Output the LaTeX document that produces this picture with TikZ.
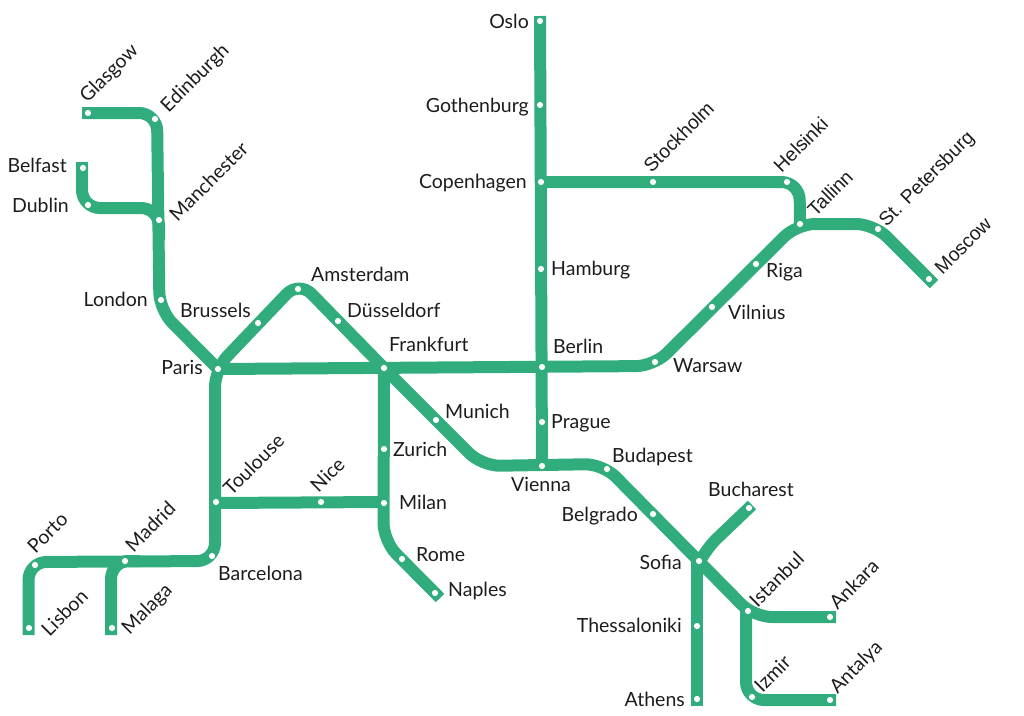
\documentclass[tikz,border=0pt]{standalone}
\usepackage{fontspec}
\setmainfont{Lato}
\newfontfamily\arialfont{Liberation Sans}
\usetikzlibrary{backgrounds}
\definecolor{metro}{RGB}{49,173,125}
\definecolor{ink}{RGB}{28,28,28}

\begin{document}
\begin{tikzpicture}[x=1pt,y=-1pt,
  stop/.style={circle,fill=white,inner sep=0pt,minimum size=6.2pt},
  track/.style={draw=metro,line width=12pt,rounded corners=18pt},
  city/.style={text=ink,font=\fontsize{19.5}{21}\selectfont,inner sep=0pt,text height=15.5pt,text depth=0pt},
  tilt/.style={city,rotate=45,anchor=west},
  tiltb/.style={tilt,font=\fontsize{19.3}{21}\selectfont\arialfont},
  west/.style={city,anchor=west},
  east/.style={city,anchor=east}]

  \useasboundingbox (0,0) rectangle (1024,715);

  % stops and their names
  \foreach \id/\x/\y/\kind/\lx/\ly/\txt in {
    oslo/540/21/east/529/21/Oslo,
    gothenburg/540/105/east/529/105/Gothenburg,
    copenhagen/541/182/east/527/181/Copenhagen,
    hamburg/541/269/west/551/268/Hamburg,
    berlin/542/367/west/553/346/Berlin,
    prague/542/422/west/551/421/Prague,
    vienna/542/466/west/511/484/Vienna,
    stockholm/653/182/tiltb/646/168/Stockholm,
    helsinki/787/182/tiltb/776/168/Helsinki,
    tallinn/800/224/tiltb/810/212/Tallinn,
    petersburg/878/229/tiltb/881/222/St. Petersburg,
    moscow/929/279/tiltb/937/270/Moscow,
    riga/756/264/west/766/270/Riga,
    vilnius/712/307/west/728/312/Vilnius,
    warsaw/655/362/west/673/365/Warsaw,
    glasgow/88/113/tilt/82/98/Glasgow,
    edinburgh/155/119/tilt/163/108/Edinburgh,
    manchester/159/220/tilt/172/217/Manchester,
    belfast/83/168/east/67/165/Belfast,
    dublin/88/205/east/69/205/Dublin,
    london/161/300/east/148/299/London,
    paris/218/369/east/203/367/Paris,
    brussels/258/323/west/180/310/Brussels,
    amsterdam/298/289/west/311/274/Amsterdam,
    dusseldorf/338/321/west/347/310/Düsseldorf,
    frankfurt/384/368/west/389/344/Frankfurt,
    munich/436/420/west/445/411/Munich,
    zurich/384/449/west/393/449/Zurich,
    milan/384/503/west/399/502/Milan,
    rome/402/559/west/416/554/Rome,
    naples/435/593/west/448/589/Naples,
    nice/321/502/tilt/313/488/Nice,
    toulouse/216/502/tilt/226/491/Toulouse,
    barcelona/212/556/west/218/573/Barcelona,
    madrid/125/561/tilt/128/548/Madrid,
    porto/35/565/tilt/30/549/Porto,
    lisbon/29/628/tilt/44/632/Lisbon,
    malaga/112/628/tilt/124/630/Malaga,
    budapest/607/469/west/612/455/Budapest,
    belgrado/653/514/east/638/514/Belgrado,
    sofia/699/561/east/682/562/Sofia,
    bucharest/749/508/west/708/489/Bucharest,
    istanbul/748/611/tilt/752/603/Istanbul,
    ankara/830/617/tilt/832/605/Ankara,
    thessaloniki/697/626/east/682/625/Thessaloniki,
    athens/697/699/east/685/699/Athens,
    izmir/752/697/tilt/757/688/Izmir,
    antalya/830/700/tilt/832/689/Antalya} {
    \node[stop] (\id) at (\x,\y) {};
    \node[\kind] (\id-name) at (\lx,\ly) {\txt};
  }

  % bends and line ends
  \foreach \id/\x/\y in {
    osloend/540/16, glasgowend/82/113, edinburghbend/157/113, londonbend/159.5/310,
    belfastend/82/162, dublinbend/82/208, manchesterbend/159/208, manchesterjoin/159/240,
    warsawbend/654/366, tallinnbend/797/224, petersburgbend/874/224, moscowend/934/284,
    apex/299/281, viennabend/482/466, budapestbend/603/464, ankarabend/754/617, ankaraend/836/617,
    parisbend/215/369, barcelonabend/215/561, portobend/28.5/562, lisbonend/28.5/635,
    malagabend/111/561, malagaend/111/635, madridjoin/140/561,
    romebend/383.5/541, naplesend/440/598,
    bucharestend/752/505, sofiabend/708/547, sofiajoin/698/565,
    athensend/697/706, sofiatop/697/555,
    helsinkibend/799.5/182, izmirtop/746/608, izmirbend/746/700, antalyaend/836/700,
    toulousejoin/215/503, milanjoin/384/502} {
    \coordinate (\id) at (\x,\y);
  }

  \begin{scope}[on background layer]
    \draw[track] (osloend) -- (vienna.center);
    \draw[track] (copenhagen.center) -- (helsinkibend) -- (tallinn.center);
    \draw[track] (glasgowend) -- (edinburghbend) -- (londonbend) -- (paris.center);
    \draw[track] (belfastend) -- (dublinbend) -- (manchesterbend) -- (manchesterjoin);
    \draw[track] (paris.center) -- (warsawbend) -- (tallinnbend) -- (petersburgbend) -- (moscowend);
    \draw[track] (frankfurt.center) -- (apex) -- (parisbend) -- (barcelonabend) -- (portobend) -- (lisbonend);
    \draw[track] (frankfurt.center) -- (viennabend) -- (budapestbend) -- (ankarabend) -- (ankaraend);
    \draw[track] (frankfurt.center) -- (romebend) -- (naplesend);
    \draw[track] (toulousejoin) -- (milanjoin);
    \draw[track] (madridjoin) -- (malagabend) -- (malagaend);
    \draw[track,rounded corners=12pt] (bucharestend) -- (sofiabend) -- (sofiajoin);
    \draw[track] (sofiatop) -- (athensend);
    \draw[track] (izmirtop) -- (izmirbend) -- (antalyaend);
  \end{scope}
\end{tikzpicture}
\end{document}
